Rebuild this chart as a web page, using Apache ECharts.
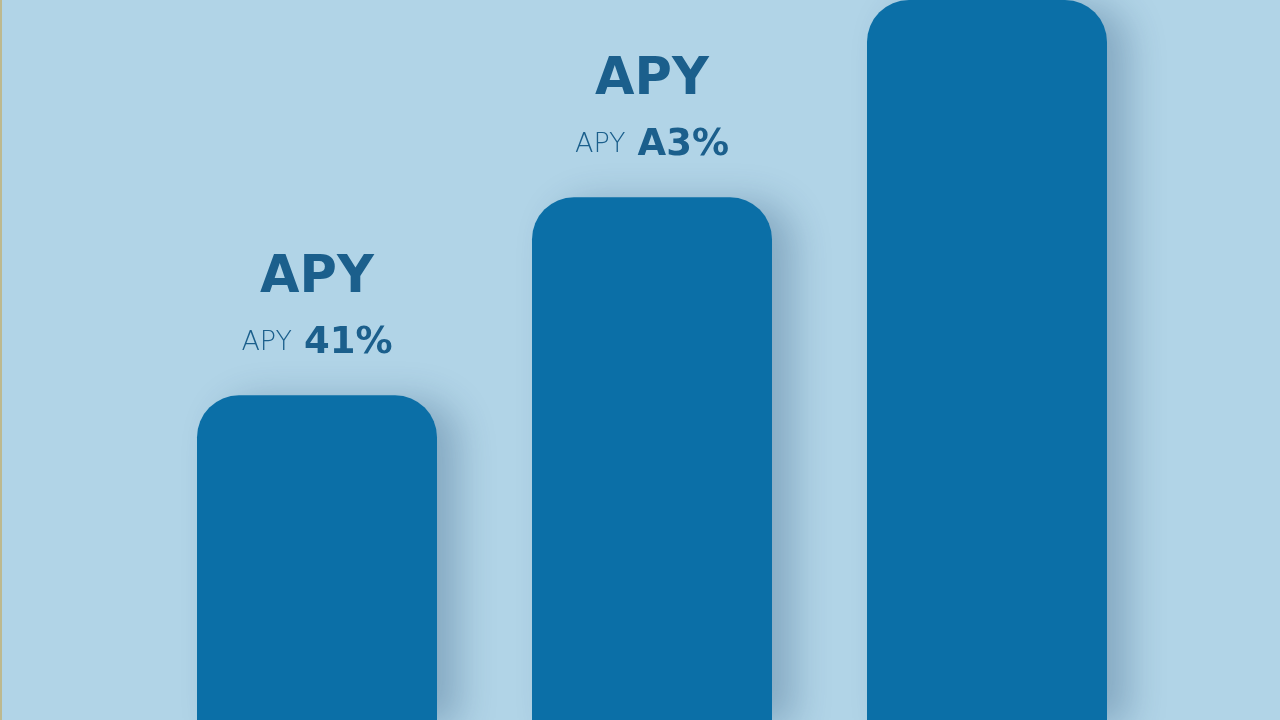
<!DOCTYPE html>
<html>
<head>
<meta charset="utf-8">
<script src="https://cdn.jsdelivr.net/npm/echarts@6/dist/echarts.min.js"></script>
<style>
html,body{margin:0;padding:0;background:#b1d4e7;}
#c{width:1280px;height:720px;}
</style>
</head>
<body>
<div id="c"></div>
<script>
const categories = ['Tier 1', 'Tier 2', 'Tier 3'];
const barValues = [45.1, 72.6, 100];
const headLabels = ['APY', 'APY', ''];
const subLabels = ['APY', 'APY', ''];
const rateLabels = ['41%', 'A3%', ''];

const chart = echarts.init(document.getElementById('c'));
const textColor = '#1b5f8c';
chart.setOption({
  backgroundColor: '#b1d4e7',
  animation: false,
  graphic: [{
    type: 'rect', left: 0, top: 0,
    shape: { width: 2, height: 720 },
    style: { fill: '#bdb98f' }
  }],
  grid: { left: 149.5, right: 125.5, top: 0, bottom: 0 },
  xAxis: {
    type: 'category', data: categories,
    axisLine: { show: false }, axisTick: { show: false }, axisLabel: { show: false }
  },
  yAxis: {
    type: 'value', min: 0, max: 100,
    axisLine: { show: false }, axisTick: { show: false }, axisLabel: { show: false },
    splitLine: { show: false }
  },
  series: [{
    type: 'bar',
    barWidth: 240,
    data: barValues.map((v, i) => ({
      value: v,
      label: { show: headLabels[i] !== '' }
    })),
    itemStyle: {
      color: '#0b6fa7',
      borderRadius: [42, 42, 0, 0],
      shadowBlur: 36,
      shadowColor: 'rgba(20,60,100,0.28)',
      shadowOffsetX: 22,
      shadowOffsetY: 4
    },
    label: {
      position: 'top',
      distance: 31,
      formatter: p => `{big|${headLabels[p.dataIndex]}}\n{small|${subLabels[p.dataIndex]}}{gap|}{bold|${rateLabels[p.dataIndex]}}`,
      rich: {
        big: { fontFamily: 'DejaVu Sans', fontWeight: 'bold', fontSize: 51, color: textColor, lineHeight: 88, align: 'center' },
        small: { fontFamily: 'DejaVu Sans', fontWeight: 300, fontSize: 27, color: textColor, lineHeight: 42 },
        gap: { width: 12, lineHeight: 42 },
        bold: { fontFamily: 'DejaVu Sans', fontWeight: 'bold', fontSize: 37, color: textColor, lineHeight: 42 }
      }
    }
  }]
});
</script>
</body>
</html>
